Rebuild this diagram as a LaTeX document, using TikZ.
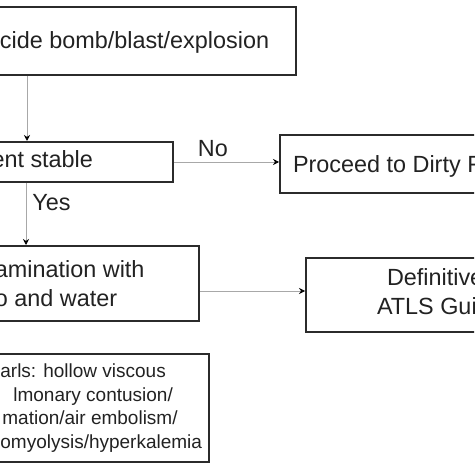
\documentclass[tikz,border=0pt]{standalone}
\usepackage{fontspec}
\setmainfont{Liberation Sans}
\usetikzlibrary{arrows.meta}
\definecolor{boxline}{HTML}{2B2B2B}
\definecolor{linkgray}{HTML}{A8A8A8}
\definecolor{inkgray}{HTML}{222222}
\begin{document}
\begin{tikzpicture}[x=0.5pt, y=-0.5pt,
    flowbox/.style={draw=boxline, line width=1pt, text=inkgray, inner ysep=0pt,
      font=\fontsize{11.7}{14.5}\selectfont},
    link/.style={draw=linkgray, line width=0.35pt,
      -{Stealth[length=3pt, width=3pt, inset=1pt, black]}},
    linklabel/.style={text=inkgray, font=\fontsize{11.7}{14}\selectfont}]
    \useasboundingbox (0,0) rectangle (474,474);
    \clip (0,0) rectangle (474,474);
    % boxes (cut at the picture edge)
    \node[flowbox, inner xsep=13.5pt, minimum height=34pt, text depth=1pt] (bomb) at (134.5, 41) {cide bomb/blast/explosion};
    \node[flowbox, inner xsep=40pt, minimum height=20pt, text depth=2.5pt] (stable) at (42.25, 162) {ent stable};
    \node[flowbox, inner xsep=6.5pt, minimum height=29pt, anchor=west, text depth=0pt] (dirty) at (279, 164) {Proceed to Dirty F};
    \node[flowbox, inner xsep=27.25pt, minimum height=37.5pt, align=left] (decon) at (69.75, 283.5) {amination with\\o and water};
    \node[flowbox, inner xsep=35.5pt, minimum height=37pt, align=left, anchor=west, text depth=3pt] (care) at (305, 295) {\hspace*{5pt}Definitive\\ATLS Gui};
    \node[flowbox, inner xsep=3.5pt, minimum height=54pt, align=left,
      font=\fontsize{9.5}{11.85}\selectfont] (pearls) at (101.2, 408)
      {arls: hollow viscous\\\hspace*{6.5pt}lmonary contusion/\\\hspace*{1pt}mation/air embolism/\\omyolysis/hyperkalemia};
    % connectors
    \coordinate (col1) at (27, 0);
    \coordinate (col2) at (26, 0);
    \coordinate (row2) at (0, 291);
    \draw[link] (bomb.south -| col1) -- (stable.north -| col1);
    \draw[link] (stable.east) -- (stable.east -| dirty.west) node[linklabel, above, pos=0.37, inner sep=2.5pt] {No};
    \draw[link] (stable.south -| col2) -- (decon.north -| col2) node[linklabel, right, pos=0.32, inner sep=3pt] {Yes};
    \draw[link] (decon.east |- row2) -- (care.west |- row2);
\end{tikzpicture}
\end{document}
